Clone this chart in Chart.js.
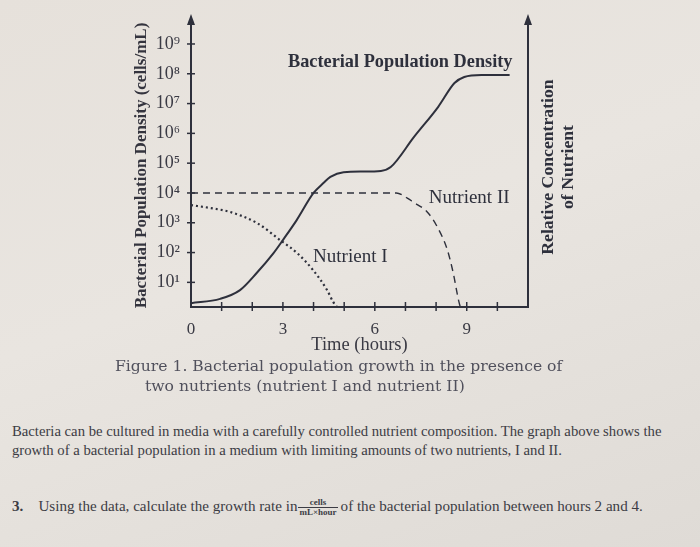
<!DOCTYPE html>
<html>
<head>
<meta charset="utf-8">
<script src="https://cdn.jsdelivr.net/npm/chart.js@4"></script>
<style>
  html, body { margin: 0; padding: 0; }
  body {
    width: 700px; height: 547px; position: relative; overflow: hidden;
    background: linear-gradient(160deg, #e6e1db 0%, #e9e5e0 45%, #dfdbd6 100%);
    color: #3a3a42;
  }
  #chart { position: absolute; left: 0; top: 0; }
  .cap { position: absolute; font-family: "DejaVu Serif", serif; font-size: 15.6px; color: #50505c; white-space: nowrap; }
  .txt { position: absolute; left: 12px; font-family: "Liberation Serif", serif; font-size: 14.7px; line-height: 19px; color: #3c3c44; white-space: nowrap; }
  .q { font-size: 15.1px; }
  .frac { display: inline-block; vertical-align: middle; text-align: center; font-size: 9px; font-weight: bold; line-height: 9px; margin: 0 3px 0 1px; }
  .frac span { display: block; padding: 0 1px; }
  .frac .num { border-bottom: 1px solid #3c3c44; }
</style>
</head>
<body>
<canvas id="chart" width="700" height="360"></canvas>
<div class="cap" style="left:115px; top:357px;">Figure 1. Bacterial population growth in the presence of</div>
<div class="cap" style="left:145px; top:377px;">two nutrients (nutrient I and nutrient II)</div>
<div class="txt" style="top:422px;">Bacteria can be cultured in media with a carefully controlled nutrient composition. The graph above shows the<br>growth of a bacterial population in a medium with limiting amounts of two nutrients, I and II.</div>
<div class="txt q" style="top:497px;"><b>3.</b>&nbsp;&nbsp;&nbsp; Using the data, calculate the growth rate in<span class="frac"><span class="num">cells</span><span>mL×hour</span></span>of the bacterial population between hours 2 and 4.</div>
<script>
// population curve (cells/mL, log axis)
const popHours = [0, 0.95, 1.6, 2.15, 2.7, 3.0, 3.45, 4.0, 4.33, 4.55, 4.98, 5.6, 6.2, 6.52, 7.28, 8.07, 8.6, 8.92, 9.48, 10.4];
const popDensity = [2.0, 2.8, 5.5, 21, 98, 263, 1230, 10000, 21900, 34700, 50000, 52500, 55000, 74000, 760000, 7.8e6, 4.9e7, 7.8e7, 9.1e7, 9.1e7];

// nutrient curves (relative concentration, right axis)
const nutIHours = [0, 0.62, 1.27, 2.15, 2.9, 3.46, 3.98, 4.44, 4.64, 4.77];
const nutIConc = [36, 35, 33.6, 29.7, 23.7, 19.1, 13.1, 6.0, 1.8, 0];
const nutIIHours = [0, 6.7, 7.06, 7.25, 7.71, 8.04, 8.37, 8.56, 8.73, 8.79];
const nutIIConc = [40.3, 40.3, 38.5, 37.1, 33.6, 28.3, 20.1, 12.0, 2.5, 0];

const xLabelHours = [0, 3, 6, 9];
const yTickValues = [1e1, 1e2, 1e3, 1e4, 1e5, 1e6, 1e7, 1e8, 1e9];
const yTickLabels = ["10¹", "10²", "10³", "10⁴", "10⁵", "10⁶", "10⁷", "10⁸", "10⁹"];

const ink = "#2e303c";
const serif = "'Liberation Serif', 'Times New Roman', serif";

const pts = (xs, ys) => xs.map((x, i) => ({ x: x, y: ys[i] }));

const decor = {
  id: "decor",
  afterDraw(chart) {
    const ctx = chart.ctx;
    const x = chart.scales.x, y = chart.scales.y, y1 = chart.scales.y1;
    const area = chart.chartArea;
    ctx.save();
    ctx.strokeStyle = ink;
    ctx.fillStyle = ink;
    ctx.lineWidth = 1.5;

    // axis arrows
    [area.left, area.right].forEach(ax => {
      ctx.beginPath();
      ctx.moveTo(ax, area.top);
      ctx.lineTo(ax, 22);
      ctx.stroke();
      ctx.beginPath();
      ctx.moveTo(ax, 14);
      ctx.lineTo(ax - 4, 25);
      ctx.lineTo(ax + 4, 25);
      ctx.closePath();
      ctx.fill();
    });

    // tick marks crossing the axes
    x.ticks.forEach(t => {
      if (t.value <= 0 || t.value >= 11) return;
      const px = x.getPixelForValue(t.value);
      ctx.beginPath();
      ctx.moveTo(px, area.bottom - 5);
      ctx.lineTo(px, area.bottom + 4);
      ctx.stroke();
    });
    yTickValues.forEach(v => {
      const py = y.getPixelForValue(v);
      ctx.beginPath();
      ctx.moveTo(area.left - 4, py);
      ctx.lineTo(area.left + 4, py);
      ctx.stroke();
    });

    // curve labels
    ctx.textAlign = "center";
    ctx.textBaseline = "middle";
    ctx.font = "bold 18.3px " + serif;
    ctx.fillText("Bacterial Population Density", x.getPixelForValue(6.83), y.getPixelForValue(2.5e8));
    ctx.font = "19px " + serif;
    ctx.fillText("Nutrient II", x.getPixelForValue(9.08), y1.getPixelForValue(38.6));
    ctx.fillText("Nutrient I", x.getPixelForValue(5.2), y1.getPixelForValue(17.6));

    // right axis title, reading upward
    ctx.font = "bold 17.7px " + serif;
    ctx.translate(area.right + 20, 167);
    ctx.rotate(-Math.PI / 2);
    ctx.fillText("Relative Concentration", 0, 0);
    ctx.fillText("of Nutrient", 0, 20);
    ctx.restore();
  }
};

new Chart(document.getElementById("chart").getContext("2d"), {
  type: "line",
  data: {
    datasets: [
      {
        label: "Bacterial Population Density",
        data: pts(popHours, popDensity),
        yAxisID: "y",
        borderColor: ink,
        borderWidth: 2,
        pointRadius: 0,
        cubicInterpolationMode: "monotone"
      },
      {
        label: "Nutrient I",
        data: pts(nutIHours, nutIConc),
        yAxisID: "y1",
        borderColor: ink,
        borderWidth: 2.2,
        borderDash: [2, 3],
        pointRadius: 0,
        cubicInterpolationMode: "monotone"
      },
      {
        label: "Nutrient II",
        data: pts(nutIIHours, nutIIConc),
        yAxisID: "y1",
        borderColor: ink,
        borderWidth: 1.4,
        borderDash: [7, 5],
        pointRadius: 0,
        cubicInterpolationMode: "monotone"
      }
    ]
  },
  options: {
    responsive: false,
    animation: false,
    layout: { padding: { left: 128, right: 170, top: 24, bottom: 4 } },
    plugins: { legend: { display: false }, tooltip: { enabled: false } },
    scales: {
      x: {
        type: "linear",
        min: 0,
        max: 11,
        grid: { display: false },
        border: { color: ink, width: 2 },
        ticks: {
          stepSize: 1,
          autoSkip: false,
          maxRotation: 0,
          padding: 4,
          color: "#3a3a44",
          font: { family: serif, size: 17 },
          callback: v => (xLabelHours.includes(v) ? String(v) : "")
        },
        title: { display: true, text: "Time (hours)", color: "#3a3a44", font: { family: serif, size: 18.5 }, padding: 0 },
        afterFit: s => { s.height = 49; }
      },
      y: {
        type: "logarithmic",
        position: "left",
        min: 1.49,
        max: 4.68e9,
        grid: { display: false },
        border: { color: ink, width: 2 },
        afterBuildTicks: s => { s.ticks = yTickValues.map(v => ({ value: v })); },
        ticks: {
          padding: 3,
          color: "#3a3a44",
          font: { family: serif, size: 18 },
          callback: (v, i) => yTickLabels[i]
        },
        title: {
          display: true,
          text: "Bacterial Population Density (cells/mL)",
          color: "#34343e",
          font: { family: serif, size: 17, weight: "bold" },
          padding: { top: 3, bottom: 0 }
        },
        afterFit: s => { s.width = 63; }
      },
      y1: {
        type: "linear",
        position: "right",
        min: 0,
        max: 100,
        grid: { display: false },
        border: { color: ink, width: 2 },
        ticks: { display: false },
        afterFit: s => { s.width = 2; }
      }
    }
  },
  plugins: [decor]
});
</script>
</body>
</html>
